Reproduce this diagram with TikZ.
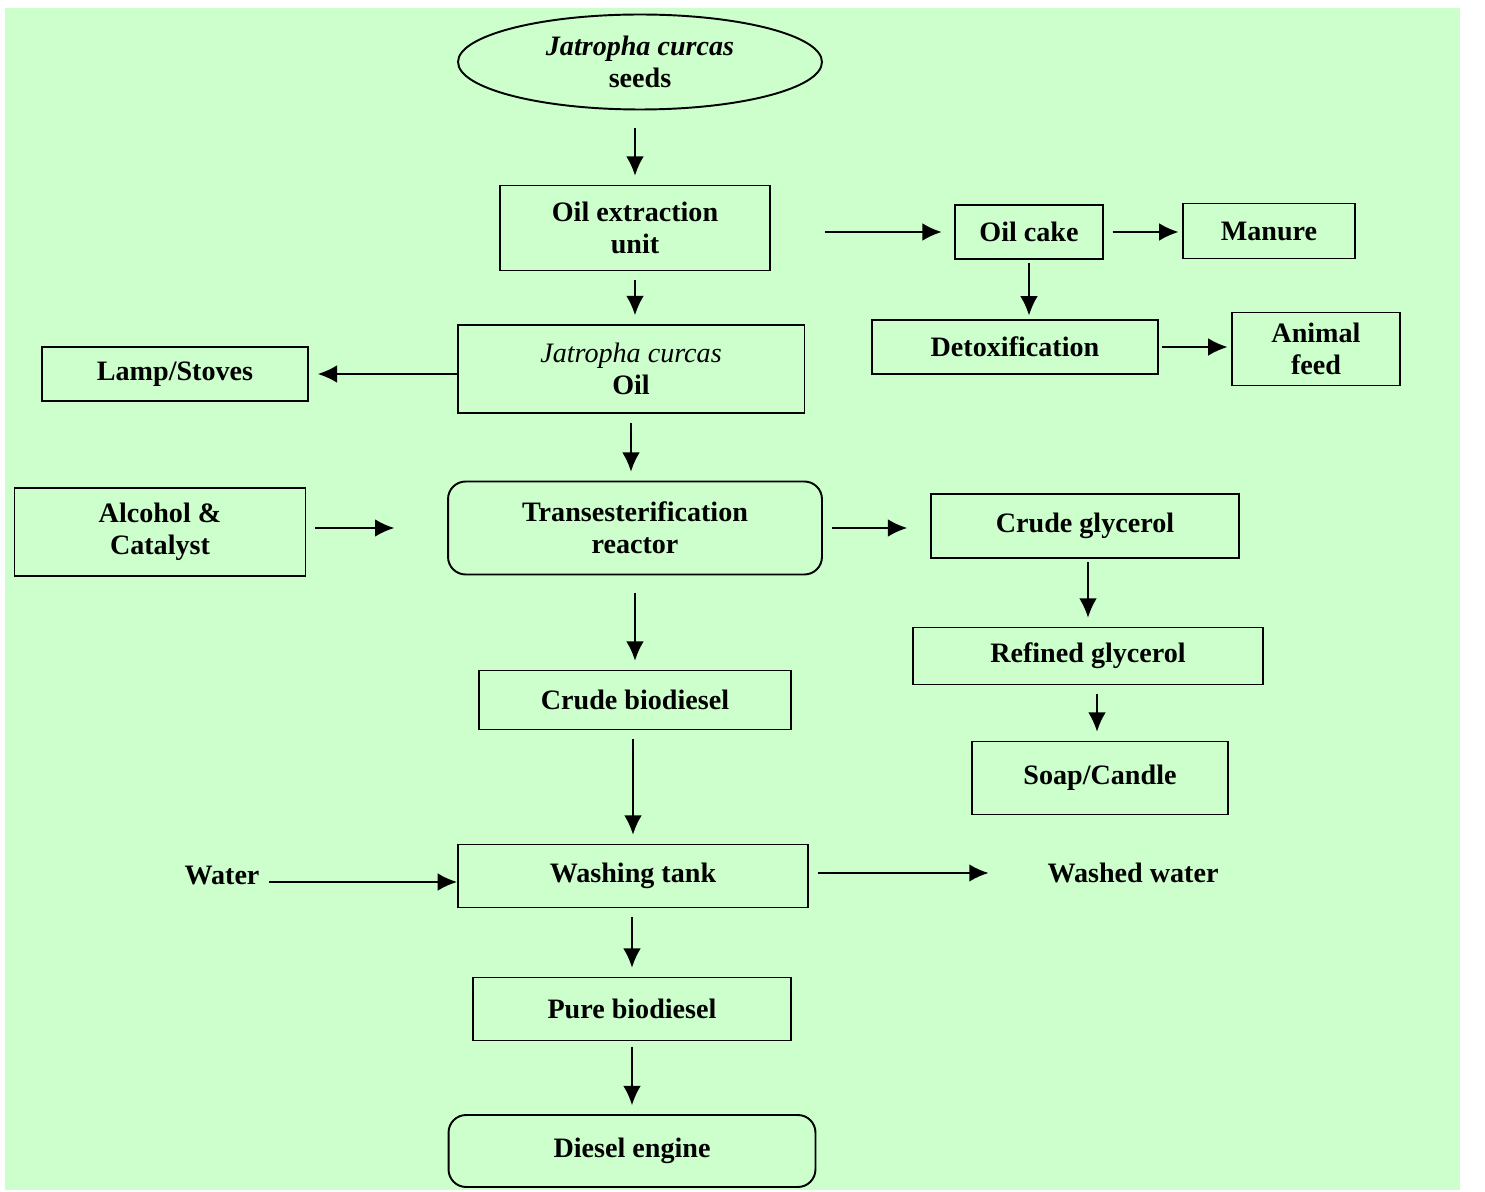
\documentclass[tikz,border=0pt]{standalone}
\usepackage{fontspec}
\setmainfont{Liberation Serif}
\usetikzlibrary{shapes.geometric, arrows.meta, positioning, calc}
\definecolor{bgcolor}{RGB}{204, 255, 204}

\begin{document}
\begin{tikzpicture}[
    x=0.02cm, y=-0.02cm,
    box/.style={
        rectangle,
        draw=black,
        line width=1.1pt,
        align=center,
        inner sep=2pt,
        font=\fontsize{16}{18}\selectfont\bfseries
    },
    rbox/.style={
        box,
        rounded corners=10pt
    },
    tag/.style={
        align=center,
        font=\fontsize{16}{18}\selectfont\bfseries
    },
    arrow/.style={
        line width=1.1pt,
        -{Latex[length=11pt, width=10pt]}
    }
]

% Background
\useasboundingbox (0,0) rectangle (1485,1192);
\fill[bgcolor] (5,8) rectangle (1460,1190);

% Main column
\node[ellipse, draw, line width=1.1pt, minimum width=7.28cm, minimum height=1.9cm, tag] (seeds) at (640,62) {\textit{Jatropha curcas}\\seeds};
\node[box, minimum width=5.4cm, minimum height=1.7cm] (extract) at (635,228) {Oil extraction\\unit};
\node[box, minimum width=6.94cm, minimum height=1.76cm] (oil) at (631,369) {\textit{\mdseries Jatropha curcas}\\Oil};
\node[rbox, minimum width=7.48cm, minimum height=1.86cm] (reactor) at (635,528) {Transesterification\\reactor};
\node[box, minimum width=6.24cm, minimum height=1.18cm] (crudebio) at (635,700) {Crude biodiesel};
\node[box, minimum width=7cm, minimum height=1.26cm] (washing) at (633,876) {Washing tank};
\node[box, minimum width=6.36cm, minimum height=1.26cm] (purebio) at (632,1009) {Pure biodiesel};
\node[rbox, minimum width=7.34cm, minimum height=1.44cm] (engine) at (632,1151) {Diesel engine};

% Side nodes
\node[box, minimum width=2.96cm, minimum height=1.08cm] (cake) at (1029,232) {Oil cake};
\node[box, minimum width=3.44cm, minimum height=1.1cm] (manure) at (1269,231) {Manure};
\node[box, minimum width=5.72cm, minimum height=1.08cm] (detox) at (1015,347) {Detoxification};
\node[box, minimum width=3.36cm, minimum height=1.46cm] (feed) at (1316,349) {Animal\\feed};
\node[box, minimum width=5.32cm, minimum height=1.08cm] (lamp) at (175,374) {Lamp/Stoves};
\node[box, minimum width=5.82cm, minimum height=1.76cm] (alcohol) at (160,532) {Alcohol \&\\Catalyst};
\node[box, minimum width=6.16cm, minimum height=1.28cm] (crudegly) at (1085,526) {Crude glycerol};
\node[box, minimum width=7cm, minimum height=1.14cm] (refgly) at (1088,656) {Refined glycerol};
\node[box, minimum width=5.12cm, minimum height=1.46cm] (soap) at (1100,778) {Soap/Candle};
\node[tag] (water) at (222,876) {Water};
\node[tag] (washed) at (1133,873) {Washed water};

% Main flow
\draw[arrow, shorten <=10pt, shorten >=5pt] (seeds.south -| extract) -- (extract);
\draw[arrow, shorten <=5pt, shorten >=5pt] (extract) -- (extract |- oil.north);
\draw[arrow, shorten <=5pt, shorten >=5pt] (oil) -- (oil |- reactor.north);
\draw[arrow, shorten <=10pt, shorten >=5pt] (reactor) -- (crudebio);
\draw[arrow, shorten <=5pt, shorten >=5pt] (crudebio.south -| washing) -- (washing);
\draw[arrow, shorten <=5pt, shorten >=5pt] (washing.south -| purebio) -- (purebio);
\draw[arrow, shorten <=3pt, shorten >=5pt] (purebio) -- (engine);

% Side flows
\draw[arrow, shorten <=31pt, shorten >=7pt] (extract.east |- cake) -- (cake.west);
\draw[arrow, shorten <=5pt, shorten >=2pt] (cake) -- (manure.west |- cake);
\draw[arrow, shorten <=2pt, shorten >=2pt] (cake) -- (cake |- detox.north);
\draw[arrow, shorten <=2pt, shorten >=2pt] (detox.east) -- (feed.west |- detox.east);
\draw[arrow, shorten >=5pt] (oil.west |- lamp) -- (lamp.east);
\draw[arrow, shorten <=5pt, shorten >=30pt] (alcohol.east |- reactor) -- (reactor.west);
\draw[arrow, shorten <=5pt, shorten >=13pt] (reactor.east) -- (crudegly.west |- reactor.east);
\draw[arrow, shorten <=2pt, shorten >=5pt] (crudegly.south -| refgly) -- (refgly);
\draw[arrow, shorten <=5pt, shorten >=5pt] (refgly.south -| 1097,0) -- (soap.north -| 1097,0);
\draw[arrow, shorten <=2pt] (water.east |- 0,882) -- (washing.west |- 0,882);
\draw[arrow, shorten <=5pt, shorten >=30pt] (washing.east |- washed) -- (washed.west);

\end{tikzpicture}
\end{document}
